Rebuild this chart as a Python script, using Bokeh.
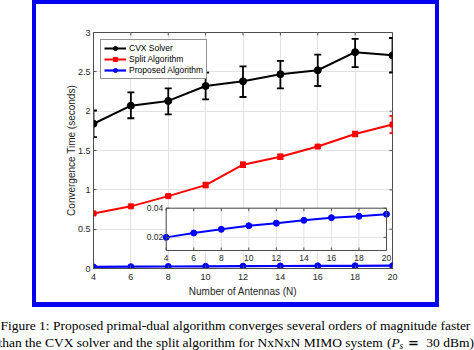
import math
from bokeh.plotting import figure
from bokeh.models import (ColumnDataSource, Whisker, TeeHead, Range1d, FixedTicker,
                          Label, Legend, LegendItem, Spacer)
from bokeh.layouts import column, row
from bokeh.embed import file_html
from bokeh.resources import INLINE
from bokeh.core.properties import value

# ---------------- data ----------------
antennas = [4, 6, 8, 10, 12, 14, 16, 18, 20]
cvx_mean = [1.84, 2.07, 2.13, 2.32, 2.38, 2.47, 2.52, 2.75, 2.71]
cvx_lo = [1.67, 1.91, 1.96, 2.15, 2.18, 2.29, 2.32, 2.56, 2.49]
cvx_hi = [2.01, 2.24, 2.29, 2.49, 2.57, 2.64, 2.72, 2.92, 2.93]
split_mean = [0.70, 0.79, 0.92, 1.06, 1.32, 1.42, 1.55, 1.71, 1.83]
split_lo = [0.69, 0.78, 0.91, 1.03, 1.29, 1.39, 1.54, 1.68, 1.72]
split_hi = [0.71, 0.80, 0.93, 1.09, 1.35, 1.45, 1.56, 1.74, 1.94]
prop_mean = [0.0200, 0.0230, 0.0255, 0.0280, 0.0297, 0.0317, 0.0335, 0.0345, 0.0359]

x_ticks = [4, 6, 8, 10, 12, 14, 16, 18, 20]
y_ticks = [0, 0.5, 1, 1.5, 2, 2.5, 3]
inset_y_ticks = [0.02, 0.04]
inset_y_labels = ["0.02", "0.04"]
x_lim = (4, 20)
y_lim = (0, 3)
inset_y_lim = (0.011, 0.04)

legend_labels = ["CVX Solver", "Split Algorithm", "Proposed Algorithm"]
x_label = "Number of Antennas (N)"
y_label = "Convergence Time (seconds)"
caption_1 = "Figure 1: Proposed primal-dual algorithm converges several orders of magnitude faster"
caption_2 = "than the CVX solver and the split algorithm for NxNxN MIMO system"
caption_2_math = ["(", "P", "s", "=", "30 dBm)"]

# ---------------- layout constants (page pixels) ----------------
W, H = 474, 350
BLUE = "#0000f0"
BX0, BX1, BY0, BY1 = 32, 439, 0, 307   # outer edges of blue frame
BT, BS, BB = 4, 4, 5                   # thickness: top, sides, bottom
PX0, PY0 = BX0 + BS, BY0 + BT          # plot origin on page
PW, PH = (BX1 - BS) - PX0, (BY1 - BB) - PY0
FL, FR, FT, FB = 93, 392, 32, 268              # main frame on page
IL, IR, IT, IB = 165.7, 386.0, 207.7, 250.0    # inset box on page

AX = "#4d4d4d"
TXT = "#262626"
GRID = "#e2e2e2"
SANS = "Liberation Sans"
SERIF = "Liberation Serif"
CAP_SIZE = "13.5px"

p = figure(width=PW, height=PH, x_range=Range1d(*x_lim), y_range=Range1d(*y_lim),
           output_backend="svg", toolbar_location=None,
           min_border_left=FL - PX0, min_border_right=PX0 + PW - FR,
           min_border_top=FT - PY0, min_border_bottom=PY0 + PH - FB)
p.background_fill_color = "white"
p.border_fill_color = "white"
p.outline_line_color = AX
p.outline_line_width = 1

for ax in (p.xaxis[0], p.yaxis[0]):
    ax.axis_line_color = AX
    ax.major_tick_line_color = AX
    ax.major_tick_in = 3
    ax.major_tick_out = 0
    ax.minor_tick_line_color = None
    ax.major_label_text_font = SANS
    ax.major_label_text_font_size = "9px"
    ax.major_label_text_color = TXT
    ax.axis_label_text_font = SANS
    ax.axis_label_text_font_size = "10px"
    ax.axis_label_text_font_style = "normal"
    ax.axis_label_text_color = TXT

p.xaxis.ticker = FixedTicker(ticks=x_ticks)
p.yaxis.ticker = FixedTicker(ticks=y_ticks)
p.xaxis.axis_label = x_label
p.yaxis.axis_label = y_label
p.xaxis.major_label_standoff = 5
p.xaxis.axis_label_standoff = 3
p.yaxis.major_label_standoff = 3
p.yaxis.axis_label_standoff = -2

p.xgrid.ticker = FixedTicker(ticks=x_ticks)
p.ygrid.ticker = FixedTicker(ticks=y_ticks)
p.grid.grid_line_color = GRID
p.grid.grid_line_width = 1

# ticks on top and right edges (box on)
p.ray(x=x_ticks, y=[y_lim[1]] * len(x_ticks), length=3, length_units="screen",
      angle=-math.pi / 2, line_color=AX, line_width=1)
p.ray(x=[x_lim[1]] * len(y_ticks), y=y_ticks, length=3, length_units="screen",
      angle=math.pi, line_color=AX, line_width=1)

# ---------------- main series ----------------
src_cvx = ColumnDataSource(dict(x=antennas, y=cvx_mean, lo=cvx_lo, hi=cvx_hi))
src_split = ColumnDataSource(dict(x=antennas, y=split_mean, lo=split_lo, hi=split_hi))
src_prop = ColumnDataSource(dict(x=antennas, y=prop_mean))

for src, col, cap_w in ((src_cvx, "black", 7), (src_split, "#ff0000", 6)):
    w = Whisker(source=src, base="x", lower="lo", upper="hi", line_color=col, line_width=1.8,
                upper_head=TeeHead(size=cap_w, line_color=col, line_width=1.8),
                lower_head=TeeHead(size=cap_w, line_color=col, line_width=1.8), level="glyph")
    p.add_layout(w)

r_cvx_l = p.line("x", "y", source=src_cvx, line_color="black", line_width=2)
r_cvx_m = p.scatter("x", "y", source=src_cvx, marker="circle", size=7, fill_color="black",
                    line_color="black")
r_sp_l = p.line("x", "y", source=src_split, line_color="#ff0000", line_width=2)
r_sp_m = p.scatter("x", "y", source=src_split, marker="square", size=5, fill_color="#ff0000",
                   line_color="#ff0000")
r_pr_l = p.line("x", "y", source=src_prop, line_color="#0000ff", line_width=2.2)
r_pr_m = p.scatter("x", "y", source=src_prop, marker="circle", size=6, fill_color="#0000ff",
                   line_color="#0000ff")

# legend-only error bar icons (empty sources)
bar_icons = []
for col in ("black", "#ff0000", "#0000ff"):
    bar_icons.append(p.scatter(x=[], y=[], marker="dash", angle=math.pi / 2, size=10,
                               line_color=col, line_width=1.6))

legend = Legend(items=[
    LegendItem(label=legend_labels[0], renderers=[r_cvx_l, bar_icons[0], r_cvx_m]),
    LegendItem(label=legend_labels[1], renderers=[r_sp_l, bar_icons[1], r_sp_m]),
    LegendItem(label=legend_labels[2], renderers=[r_pr_l, bar_icons[2], r_pr_m]),
], location="top_left")
legend.margin = 7
legend.padding = 3
legend.spacing = 1
legend.label_height = 10
legend.glyph_height = 10
legend.glyph_width = 22
legend.label_standoff = 3
legend.label_text_font = SANS
legend.label_text_font_size = "8.5px"
legend.label_text_color = "black"
legend.border_line_color = TXT
legend.border_line_width = 1
legend.background_fill_color = "white"
legend.background_fill_alpha = 1
p.add_layout(legend)

# ---------------- inset (extra ranges mapped onto the inset box) ----------------
sx = (IR - IL) / (x_lim[1] - x_lim[0])
sy = (IB - IT) / (inset_y_lim[1] - inset_y_lim[0])
p.extra_x_ranges = {"ix": Range1d(x_lim[0] - (IL - FL) / sx, x_lim[1] + (FR - IR) / sx)}
p.extra_y_ranges = {"iy": Range1d(inset_y_lim[0] - (FB - IB) / sy, inset_y_lim[1] + (IT - FT) / sy)}
kw = dict(x_range_name="ix", y_range_name="iy")
x0, x1 = x_lim
y0, y1 = inset_y_lim

p.quad(left=[x0], right=[x1], bottom=[y0], top=[y1], fill_color="white", line_color=None, **kw)
p.segment(x0=x_ticks, y0=[y0] * len(x_ticks), x1=x_ticks, y1=[y1] * len(x_ticks),
          line_color=GRID, line_width=1, **kw)
p.segment(x0=[x0] * len(inset_y_ticks), y0=inset_y_ticks, x1=[x1] * len(inset_y_ticks),
          y1=inset_y_ticks, line_color=GRID, line_width=1, **kw)
p.line(antennas, prop_mean, line_color="#0000ff", line_width=2, **kw)
p.scatter(antennas, prop_mean, marker="circle", size=6, fill_color="#0000ff",
          line_color="#0000ff", **kw)
p.quad(left=[x0], right=[x1], bottom=[y0], top=[y1], fill_color=None, line_color=AX,
       line_width=1, **kw)
p.ray(x=x_ticks, y=[y0] * len(x_ticks), length=3, length_units="screen", angle=math.pi / 2,
      line_color=AX, **kw)
p.ray(x=x_ticks, y=[y1] * len(x_ticks), length=3, length_units="screen", angle=-math.pi / 2,
      line_color=AX, **kw)
p.ray(x=[x0] * len(inset_y_ticks), y=inset_y_ticks, length=3, length_units="screen", angle=0,
      line_color=AX, **kw)
p.ray(x=[x1] * len(inset_y_ticks), y=inset_y_ticks, length=3, length_units="screen",
      angle=math.pi, line_color=AX, **kw)
p.text(x=x_ticks, y=[y0] * len(x_ticks), text=[str(t) for t in x_ticks], y_offset=4,
       text_align="center", text_baseline="top", text_font=value(SANS),
       text_font_size="8.5px", text_color=TXT, **kw)
p.text(x=[x0] * len(inset_y_ticks), y=inset_y_ticks, text=inset_y_labels, x_offset=-3,
       text_align="right", text_baseline="middle", text_font=value(SANS),
       text_font_size="8.5px", text_color=TXT, **kw)

# ---------------- caption figure ----------------
CAP_H = H - BY1
cap = figure(width=W, height=CAP_H, x_range=Range1d(0, W), y_range=Range1d(CAP_H, 0),
             output_backend="svg", toolbar_location=None, x_axis_type=None, y_axis_type=None,
             min_border=0, outline_line_color=None)
cap.grid.visible = False
cap.background_fill_color = "white"
cap.border_fill_color = "white"


def cap_label(txt, x, cy, size=CAP_SIZE, style="normal", dy=0, align="left", font=SERIF):
    cap.add_layout(Label(x=x, y=cy - BY1 + dy, text=txt, text_font=font, text_font_size=size,
                         text_font_style=style, text_baseline="middle", text_align=align,
                         text_color="black"))


cap_label(caption_1, 0, 325)
cap_label(caption_2, -2, 342)
# "(P_s = 30 dBm)" typeset piecewise, as in the original's math mode
cap_label(caption_2_math[0], 386.5, 342)
cap_label(caption_2_math[1], 391.0, 342, style="italic")
cap_label(caption_2_math[2], 399.0, 342, size="9.5px", style="italic", dy=3)
cap_label(caption_2_math[3], 413.0, 342, size="13px", style="bold", align="center",
          font="DejaVu Serif")
cap_label(caption_2_math[4], 473.5, 342, align="right")

# ---------------- blue frame around the plot ----------------
def band(w, h):
    return Spacer(width=w, height=h, styles={"background-color": BLUE})


framed = column(band(BX1 - BX0, BT),
                row(band(BS, PH), p, band(BS, PH)),
                band(BX1 - BX0, BB))
root = column(row(Spacer(width=BX0, height=BY1 - BY0), framed), cap)

open("out.html", "w").write(file_html(root, INLINE))
